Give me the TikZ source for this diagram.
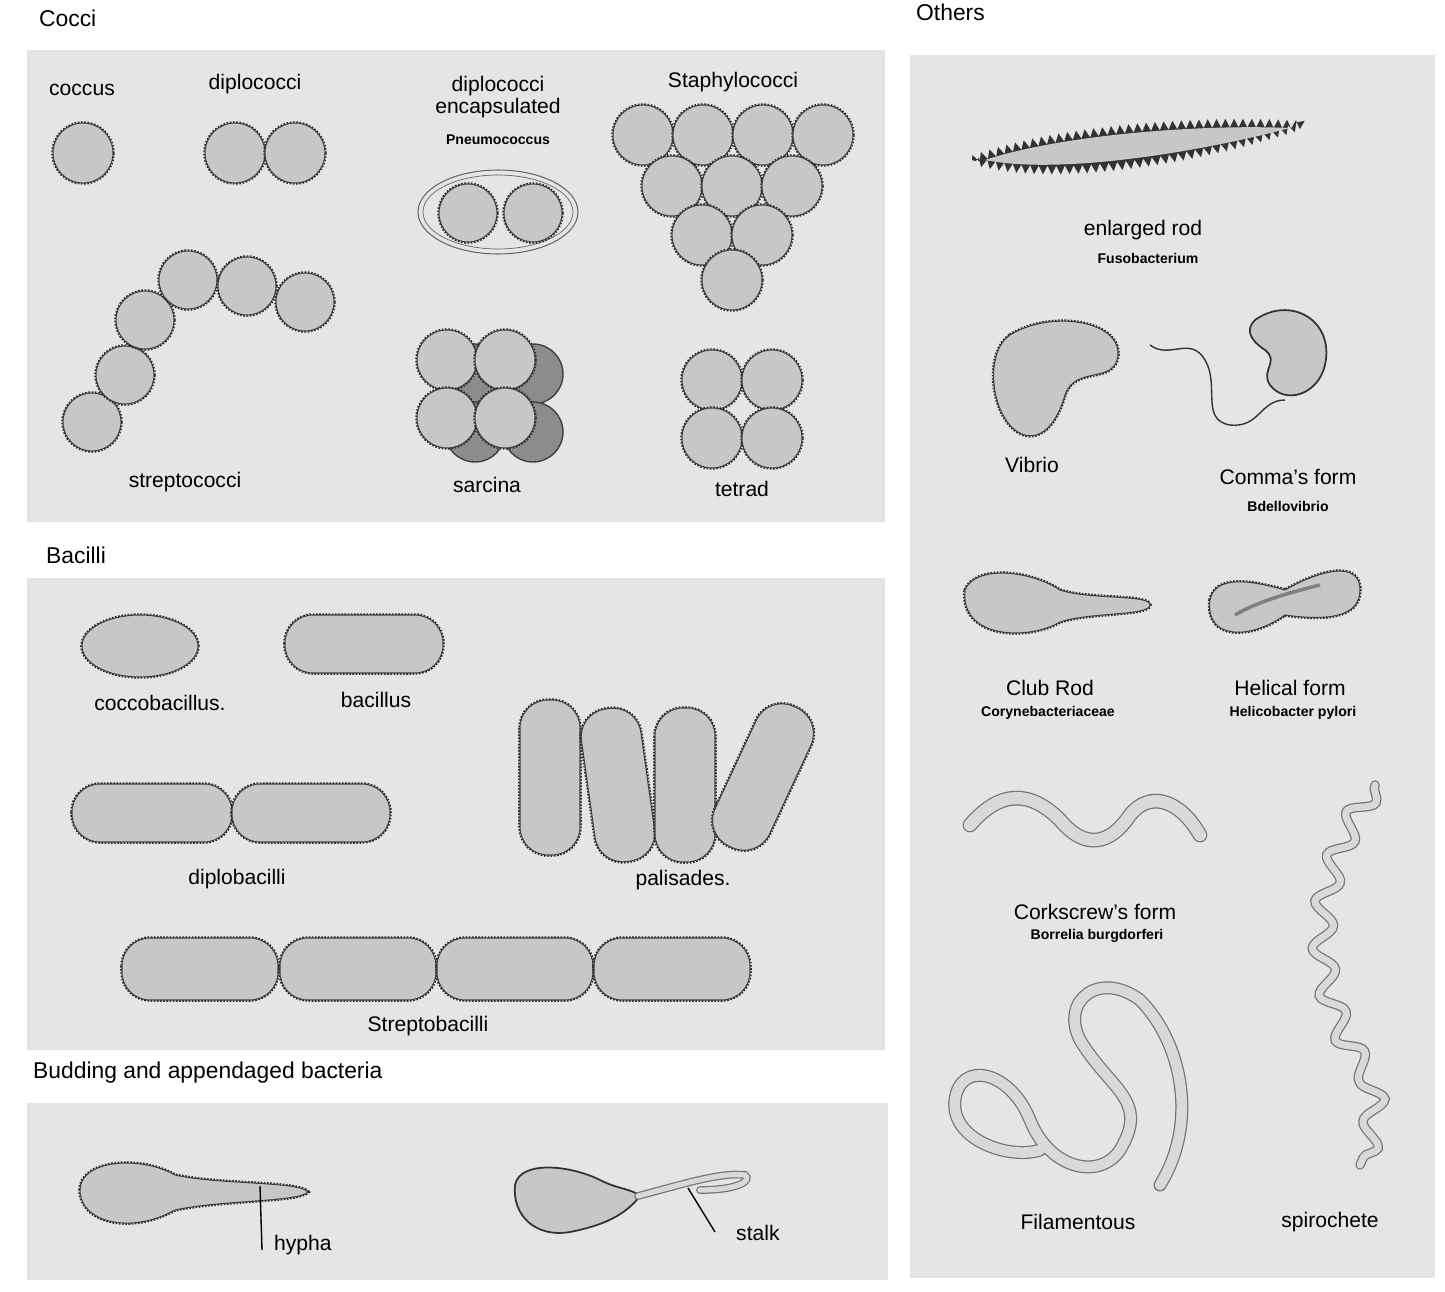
\documentclass[tikz,border=0pt]{standalone}
\usepackage{fontspec}
\setmainfont{Liberation Sans}
\usetikzlibrary{decorations.pathmorphing,shapes.geometric}
\definecolor{panel}{gray}{0.9}
\definecolor{cellg}{gray}{0.78}
\tikzset{
 pnl/.style={fill=panel,draw=none},
 cell/.style={fill=cellg,draw=black!75,line width=0.6pt,preaction={draw=black!85,line width=2pt,dash pattern=on 0.9pt off 0.9pt}},
 dcell/.style={fill=black!45,draw=black!75,line width=0.8pt},
 ttl/.style={font=\fontsize{13}{15}\selectfont,anchor=west},
 lbl/.style={font=\fontsize{12}{13}\selectfont},
 sml/.style={font=\fontsize{8}{9}\selectfont\bfseries},
 tube/.style={draw=black!55,double=black!15,double distance=5pt,line width=0.7pt,line cap=round},
}
\begin{document}
\begin{tikzpicture}[x=0.02cm,y=-0.02cm]
\useasboundingbox[fill=white] (0,0) rectangle (1445,1292);
\fill[pnl] (27,50) rectangle (885,522);
\fill[pnl] (27,578) rectangle (885,1050);
\fill[pnl] (27,1103) rectangle (888,1280);
\fill[pnl] (910,55) rectangle (1435,1278);
\node[ttl] (tc) at (33,18) {Cocci};
\node[ttl] (tb) at (40,555) {Bacilli};
\node[ttl] (tbu) at (27,1073) {Budding and appendaged bacteria};
\node[ttl] (to) at (910,12) {Others};
% cocci
\def\R{0.6cm}
\fill[cell] (83,153) circle (\R);
\foreach \p in {(235,153),(295,153)} \fill[cell] \p circle (\R);
\draw[black!60,line width=0.6pt,fill=panel] (498,212) ellipse (1.6cm and 0.84cm);
\draw[black!60,line width=0.4pt] (498,212) ellipse (1.5cm and 0.74cm);
\foreach \p in {(468,213),(533,213)} \fill[cell] \p circle (0.58cm);
\foreach \p in {(643,135),(703,135),(763,135),(823,135),(672,186),(732,186),(792,186),(702,235),(762,235),(732,280)} \fill[cell] \p circle (\R);
\foreach \p in {(92,422),(125,375),(145,320),(188,280),(247,286),(305,302)} \fill[cell] \p circle (0.58cm);
\foreach \p in {(475,374),(533,374),(475,432),(533,432)} \fill[dcell] \p circle (\R);
\foreach \p in {(447,360),(505,360),(447,418),(505,418)} \fill[cell] \p circle (\R);
\foreach \p in {(712,380),(772,380),(712,438),(772,438)} \fill[cell] \p circle (\R);
\node[lbl] (l1) at (82,90) {coccus};
\node[lbl] (l2) at (255,84) {diplococci};
\node[lbl,align=center] (l3) at (498,97) {diplococci\\encapsulated};
\node[sml] (l3b) at (498,140) {Pneumococcus};
\node[lbl] (l4) at (733,82) {Staphylococci};
\node[lbl] (l5) at (185,482) {streptococci};
\node[lbl] (l6) at (487,485) {sarcina};
\node[lbl] (l7) at (742,489) {tetrad};
% bacilli
\fill[cell] (140,646) ellipse (1.16cm and 0.62cm);
\tikzset{rod/.style={cell,rounded corners=0.56cm}}
\fill[rod] (285,615) rectangle (443,673);
\fill[rod] (72,784) rectangle (232,842);
\fill[rod] (232,784) rectangle (390,842);
\foreach \a in {122,280,437,594} \fill[rod] (\a,938) rectangle ({\a+156},1000);
\fill[rod] (520,700) rectangle (580,855);
\fill[rod,rotate around={8:(618,785)}] (588,708) rectangle (648,862);
\fill[rod] (655,708) rectangle (715,862);
\fill[rod,rotate around={-25:(763,777)}] (733,700) rectangle (793,854);
\node[lbl] (b1) at (160,703) {coccobacillus.};
\node[lbl] (b2) at (376,700) {bacillus};
\node[lbl] (b3) at (237,879) {diplobacilli};
\node[lbl] (b4) at (683,880) {palisades.};
\node[lbl] (b5) at (428,1026) {Streptobacilli};
% budding
\fill[cell] (80,1190) .. controls (80,1160) and (140,1155) .. (175,1175) .. controls (220,1185) and (300,1181) .. (308,1192) .. controls (300,1202) and (220,1200) .. (175,1210) .. controls (130,1235) and (80,1222) .. cycle;
\coordinate (hy1) at (260,1186); \coordinate (hy2) at (262,1250);
\draw[black,line width=0.8pt] (hy1) -- (hy2);
\node[lbl,anchor=west] (hy) at (268,1245) {hypha};
\fill[cellg,draw=black!80,line width=1pt] (515,1185) .. controls (520,1160) and (570,1165) .. (600,1180) .. controls (620,1190) and (630,1188) .. (640,1196) .. controls (625,1215) and (605,1225) .. (570,1232) .. controls (535,1238) and (512,1215) .. cycle;
\draw[tube,double distance=3pt] (638,1196) .. controls (680,1185) and (720,1172) .. (745,1175) .. controls (752,1180) and (740,1190) .. (700,1190);
\coordinate (st1) at (688,1188); \coordinate (st2) at (715,1232);
\draw[black,line width=0.8pt] (st1) -- (st2);
\node[lbl,anchor=west] (st) at (730,1233) {stalk};
% others
\fill[black!80,decorate,decoration={zigzag,segment length=5pt,amplitude=2.5pt}] (972,160) .. controls (1050,130) and (1200,118) .. (1303,125) .. controls (1200,160) and (1050,185) .. (972,160);
\fill[cellg] (985,160) .. controls (1060,135) and (1200,124) .. (1290,128) .. controls (1200,152) and (1060,175) .. (985,160);
\node[lbl] (o1) at (1143,230) {enlarged rod};
\node[sml] (o1b) at (1148,258) {Fusobacterium};
\fill[cell] (1010,335) .. controls (1050,310) and (1120,320) .. (1118,355) .. controls (1115,385) and (1075,365) .. (1065,395) .. controls (1055,430) and (1035,445) .. (1015,430) .. controls (990,410) and (985,352) .. cycle;
\node[lbl] (o2) at (1032,465) {Vibrio};
\fill[cellg,draw=black!80,line width=1pt] (1255,320) .. controls (1290,295) and (1335,320) .. (1325,365) .. controls (1318,395) and (1285,405) .. (1270,385) .. controls (1260,370) and (1280,362) .. (1265,350) .. controls (1250,340) and (1245,330) .. cycle;
\draw[black!80,line width=0.8pt] (1150,345) .. controls (1170,360) and (1190,335) .. (1205,360) .. controls (1220,385) and (1200,420) .. (1230,425) .. controls (1260,428) and (1260,400) .. (1285,400);
\node[lbl] (o3) at (1288,477) {Comma's form};
\node[sml] (o3b) at (1288,506) {Bdellovibrio};
\fill[cell] (965,590) .. controls (975,565) and (1030,570) .. (1060,590) .. controls (1090,600) and (1150,594) .. (1150,605) .. controls (1150,616) and (1090,612) .. (1060,622) .. controls (1030,640) and (960,640) .. cycle;
\node[lbl] (o4) at (1050,688) {Club Rod};
\node[sml] (o4b) at (1048,713) {Corynebacteriaceae};
\fill[cell] (1210,600) .. controls (1215,575) and (1250,580) .. (1285,590) .. controls (1320,570) and (1360,560) .. (1360,590) .. controls (1360,620) and (1320,620) .. (1285,615) .. controls (1250,640) and (1205,640) .. cycle;
\draw[black!50,line width=2pt] (1235,615) .. controls (1260,600) and (1300,590) .. (1320,585);
\node[lbl] (o5) at (1290,688) {Helical form};
\node[sml] (o5b) at (1293,713) {Helicobacter pylori};
\draw[tube,double distance=7pt] (970,825) .. controls (1000,790) and (1030,790) .. (1060,820) .. controls (1085,850) and (1110,845) .. (1130,815) .. controls (1150,790) and (1180,800) .. (1200,835);
\node[lbl] (o6) at (1095,912) {Corkscrew's form};
\node[sml] (o6b) at (1097,936) {Borrelia burgdorferi};
\draw[tube,double distance=6pt] (1160,1185) .. controls (1200,1120) and (1180,1040) .. (1140,1000) .. controls (1100,970) and (1060,1000) .. (1080,1040) .. controls (1110,1090) and (1150,1100) .. (1120,1150) .. controls (1100,1180) and (1050,1170) .. (1030,1120) .. controls (1010,1070) and (960,1060) .. (955,1100) .. controls (950,1140) and (1010,1160) .. (1040,1150);
\node[lbl] (o7) at (1078,1222) {Filamentous};
\draw[tube,double distance=4pt,decorate,decoration={snake,segment length=26pt,amplitude=6pt}] (1375,785) .. controls (1300,900) and (1330,1000) .. (1370,1060) .. controls (1390,1100) and (1370,1140) .. (1360,1165);
\node[lbl] (o8) at (1330,1222) {spirochete};
\end{tikzpicture}
\end{document}
